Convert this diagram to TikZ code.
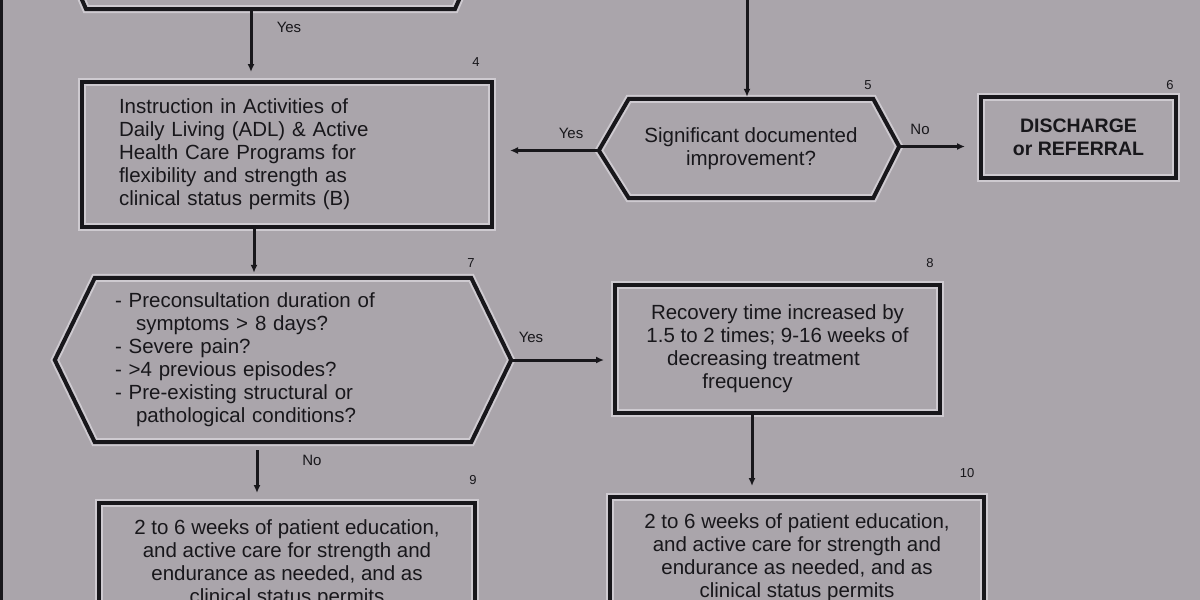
\documentclass[tikz,border=0pt]{standalone}
\usepackage{fontspec}
\setmainfont{Liberation Sans}
\usetikzlibrary{calc,arrows.meta}
\definecolor{paper}{RGB}{170,165,171}
\definecolor{ink}{RGB}{24,23,27}
\definecolor{hl}{RGB}{206,202,208}
\begin{document}
\begin{tikzpicture}[x=1pt,y=-1pt,
  outline/.style={draw=ink,line width=4pt,line join=miter,preaction={draw=hl,line width=8pt}},
  boxs/.style={outline,inner sep=0pt,text=ink,font=\fontsize{20.5}{23}\selectfont},
  hexs/.style={inner sep=0pt,text=ink,font=\fontsize{20.5}{23}\selectfont},
  num/.style={text=ink,font=\fontsize{13}{13}\selectfont},
  lab/.style={text=ink,font=\fontsize{15}{15}\selectfont},
  conn/.style={draw=ink,line width=3pt,-{Latex[length=8pt,width=7pt]}},
]
\clip (0,0) rectangle (1200,600);
\fill[paper] (-5,-5) rectangle (1205,605);
\fill[ink] (0,0) rectangle (3,600);

% partial decision at the top
\draw[outline] (76,-14) -- (86,9) -- (455,9) -- (465,-14);
\coordinate (t3) at (251,9);
\coordinate (t2) at (747,0);

% 4
\node[boxs,minimum width=410pt,minimum height=145pt,text width=336pt,align=left] (n4) at (287,154.5)
  {Instruction in Activities of\\Daily Living (ADL) \& Active\\Health Care Programs for\\flexibility and strength as\\clinical status permits (B)};

% 5
\node[hexs,minimum width=244pt,minimum height=99pt,align=center] (n5) at (751,148.5)
  {Significant documented\\improvement?};
\coordinate (n5r) at ($(n5.east)+(26,-2)$);
\coordinate (n5l) at ($(n5.west)+(-30,2)$);
\draw[outline] (n5.north west) -- (n5.north east) -- (n5r) -- (n5.south east) -- (n5.south west) -- (n5l) -- cycle;

% 6
\node[boxs,minimum width=195pt,minimum height=81pt,align=center,font=\fontsize{19.5}{23}\selectfont\bfseries] (n6) at (1078.5,137.5)
  {DISCHARGE\\or REFERRAL};

% 7
\node[hexs,minimum width=376pt,minimum height=164pt,text width=336pt,align=left] (n7) at (283,360)
  {- Preconsultation duration of\\\hspace*{21pt}symptoms > 8 days?\\- Severe pain?\\- >4 previous episodes?\\- Pre-existing structural or\\\hspace*{21pt}pathological conditions?};
\coordinate (n7r) at ($(n7.east)+(40,0)$);
\coordinate (n7l) at ($(n7.west)+(-40,0)$);
\draw[outline] (n7.north west) -- (n7.north east) -- (n7r) -- (n7.south east) -- (n7.south west) -- (n7l) -- cycle;

% 8
\node[boxs,minimum width=325pt,minimum height=128pt,align=center] (n8) at (777.5,349)
  {Recovery time increased by\\1.5 to 2 times; 9-16 weeks of\\decreasing treatment\hspace*{28pt}\mbox{}\\frequency\hspace*{60pt}\mbox{}};

% 9
\node[boxs,minimum width=376pt,minimum height=121pt,align=center] (n9) at (287,563.5)
  {2 to 6 weeks of patient education,\\and active care for strength and\\endurance as needed, and as\\clinical status permits};

% 10
\node[boxs,minimum width=374pt,minimum height=121pt,align=center] (n10) at (797,557.5)
  {2 to 6 weeks of patient education,\\and active care for strength and\\endurance as needed, and as\\clinical status permits};

% connectors
\draw[conn,shorten >=8pt] (t3) -- (t3 |- n4.north);
\draw[conn,shorten >=2pt] (t2) -- (t2 |- n5.north);
\draw[conn,shorten >=16pt] (n5l) -- (n5l -| n4.east);
\draw[conn,shorten >=14pt] (n5r) -- (n5r -| n6.west);
\draw[conn,shorten >=5pt] ([xshift=-33pt]n4.south) -- ([xshift=-29pt]n7.north);
\draw[conn,shorten >=9pt] (n7r) -- (n7r -| n8.west);
\draw[conn,shorten <=8pt,shorten >=8pt] ([xshift=-26pt]n7.south) -- ([xshift=-30pt]n9.north);
\draw[conn,shorten >=9pt] ([xshift=-25.5pt]n8.south) -- ([xshift=-45pt]n10.north);

% labels
\node[lab] (y1) at (289,27) {Yes};
\node[lab] (y2) at (571,133) {Yes};
\node[lab] (no1) at (920,129) {No};
\node[lab] (y3) at (531,337) {Yes};
\node[lab] (no2) at (312,460) {No};
\node[num] (l4) at (476,62) {4};
\node[num] (l5) at (868,85) {5};
\node[num] (l6) at (1170,85) {6};
\node[num] (l7) at (471,263) {7};
\node[num] (l8) at (930,263) {8};
\node[num] (l9) at (473,480) {9};
\node[num] (l10) at (967,473) {10};
\end{tikzpicture}
\end{document}
